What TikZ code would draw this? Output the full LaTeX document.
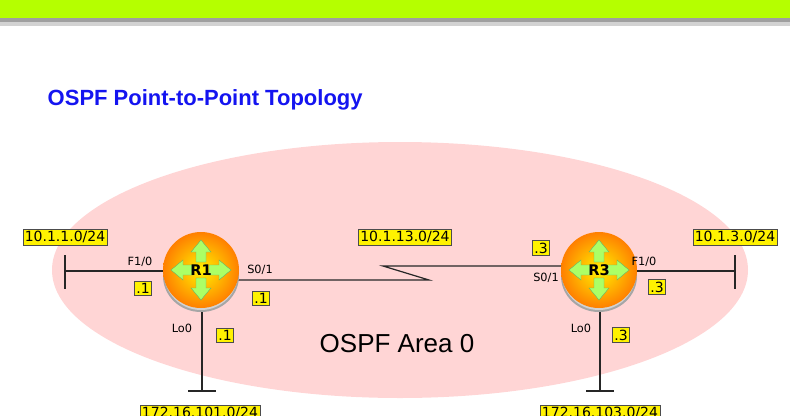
\documentclass[tikz,border=0pt]{standalone}
\usepackage{fontspec}
\setmainfont{Liberation Sans}
\newfontfamily\dv{DejaVu Sans}
\usetikzlibrary{shadows}
\definecolor{bar}{HTML}{B5FF00}
\definecolor{area}{HTML}{FFD5D5}
\definecolor{ttl}{HTML}{1414F0}
\tikzset{
 lbl/.style={draw=black!70,fill=yellow,inner sep=1.5pt,font=\dv\fontsize{10.5}{12}\selectfont},
 ifl/.style={font=\dv\fontsize{8.5}{10}\selectfont},
 wire/.style={draw=black!85,line width=0.9pt},
 rtr/.style={circle,minimum size=57pt,inner sep=0pt},
 garrow/.style={fill=green!55!yellow!60,draw=green!50!black!60,line width=0.3pt}
}
\newcommand{\router}[3]{%
 \fill[gray!70] (#1,#2+6) circle[x radius=38,y radius=36];
 \fill[gray!35] (#1,#2+3) circle[radius=37];
 \node[rtr,inner color=yellow!90!orange,outer color=orange] (#3) at (#1,#2) {};
 \foreach \a in {0,90,180,270}{
  \begin{scope}[shift={(#1,#2)},rotate=\a]
   \path[garrow] (8,-5)--(18,-5)--(18,-10)--(30,0)--(18,10)--(18,5)--(8,5)--cycle;
  \end{scope}}
}
\begin{document}
\begin{tikzpicture}[x=0.75pt,y=-0.75pt]
\useasboundingbox (0,0) rectangle (790,415);
\clip (0,0) rectangle (790,415);
\fill[gray!35] (0,18) rectangle (790,26);
\fill[gray!75] (0,4) rectangle (790,22);
\fill[bar] (0,0) rectangle (790,18);
\node[font=\bfseries\fontsize{16.5}{19}\selectfont,text=ttl,anchor=west] (title) at (43,100) {OSPF Point-to-Point Topology};
\fill[area] (400,270) ellipse[x radius=348,y radius=128];
\node[font=\fontsize{19.5}{23}\selectfont] (area) at (397,344) {OSPF Area 0};
% ends
\coordinate (e1t) at (65,255); \coordinate (e1b) at (65,289); \coordinate (e1) at (65,271);
\coordinate (e3t) at (735,255); \coordinate (e3b) at (735,289); \coordinate (e3) at (735,271);
\coordinate (l1) at (202,391); \coordinate (l1a) at (188,391); \coordinate (l1b) at (216,391);
\coordinate (l3) at (600,391); \coordinate (l3a) at (586,391); \coordinate (l3b) at (614,391);
\coordinate (z1) at (429,280); \coordinate (z2) at (383,266);
\draw[wire] (e1t)--(e1b); \draw[wire] (e3t)--(e3b);
\draw[wire] (l1a)--(l1b); \draw[wire] (l3a)--(l3b);
\draw[wire] (e1)--(201,271);
\draw[wire] (e3)--(599,271);
\draw[wire] (l1)--(202,290);
\draw[wire] (l3)--(600,290);
\draw[wire] (201,280)--(z1)--(z2)--(599,266);
\router{201}{270}{R1}
\router{599}{270}{R3}
\node[font=\dv\bfseries\fontsize{11}{13}\selectfont] at (R1) {R1};
\node[font=\dv\bfseries\fontsize{11}{13}\selectfont] at (R3) {R3};
% labels
\node[lbl] (n1) at (65,237) {10.1.1.0/24};
\node[lbl] (n13) at (405,237) {10.1.13.0/24};
\node[lbl] (n3) at (735,237) {10.1.3.0/24};
\node[lbl,anchor=north] (n101) at (200,405) {172.16.101.0/24};
\node[lbl,anchor=north] (n103) at (600,405) {172.16.103.0/24};
\node[ifl] at (140,262) {F1/0};
\node[lbl] at (143,288) {.1};
\node[ifl] at (260,270) {S0/1};
\node[lbl] at (261,298) {.1};
\node[ifl] at (182,328) {Lo0};
\node[lbl] at (225,335) {.1};
\node[ifl] at (546,278) {S0/1};
\node[lbl] at (541,248) {.3};
\node[ifl] at (644,262) {F1/0};
\node[lbl] at (657,287) {.3};
\node[ifl] at (581,328) {Lo0};
\node[lbl] at (621,335) {.3};
\end{tikzpicture}
\end{document}
